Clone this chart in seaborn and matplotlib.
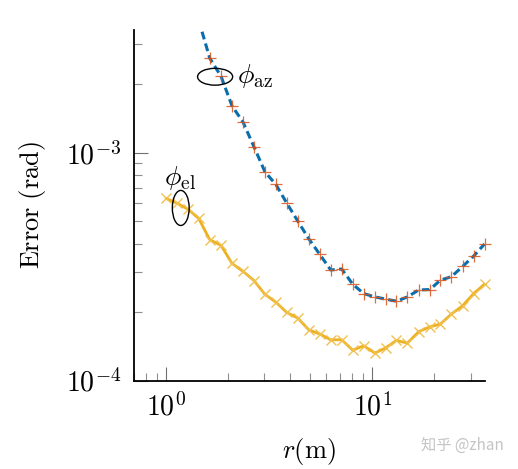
import numpy as np
import pandas as pd
import matplotlib
matplotlib.use("Agg")
import matplotlib.pyplot as plt
import seaborn as sns
from matplotlib.patches import Ellipse
from matplotlib.ticker import LogLocator, NullFormatter, FuncFormatter

# ---- data ----
r = [1.00, 1.13, 1.28, 1.44, 1.63, 1.85, 2.09, 2.36, 2.67, 3.02,
     3.41, 3.85, 4.36, 4.92, 5.57, 6.29, 7.11, 8.04, 9.09, 10.3,
     11.6, 13.1, 14.8, 16.8, 19.0, 21.4, 24.2, 27.4, 31.0, 35.0]

err_el = [6.31e-4, 6.02e-4, 5.65e-4, 5.16e-4, 4.16e-4, 3.92e-4, 3.27e-4, 3.02e-4, 2.75e-4, 2.39e-4,
          2.21e-4, 1.99e-4, 1.88e-4, 1.67e-4, 1.60e-4, 1.51e-4, 1.51e-4, 1.36e-4, 1.42e-4, 1.32e-4,
          1.39e-4, 1.50e-4, 1.46e-4, 1.64e-4, 1.72e-4, 1.77e-4, 1.96e-4, 2.13e-4, 2.41e-4, 2.65e-4]

# azimuth: starts at r[3] (first point lies above the plot top)
err_az = [3.84e-3, 2.61e-3, 2.17e-3, 1.61e-3, 1.37e-3, 1.065e-3, 8.25e-4, 7.27e-4, 6.02e-4, 5.01e-4,
          4.20e-4, 3.58e-4, 3.06e-4, 3.09e-4, 2.65e-4, 2.41e-4, 2.33e-4, 2.28e-4, 2.23e-4, 2.33e-4,
          2.50e-4, 2.51e-4, 2.76e-4, 2.86e-4, 3.17e-4, 3.52e-4, 3.98e-4]
r_az = r[3:]

sns.set_style("ticks")
plt.rcParams["mathtext.fontset"] = "cm"
plt.rcParams["font.family"] = ["DejaVu Serif"]
plt.rcParams["text.color"] = "black"
plt.rcParams["axes.labelcolor"] = "black"
plt.rcParams["xtick.labelcolor"] = "black"
plt.rcParams["ytick.labelcolor"] = "black"

fig = plt.figure(figsize=(5.18, 4.69), dpi=100)
ax = fig.add_axes([134 / 518, 1 - 380.5 / 469, 350.5 / 518, 350.5 / 469])

df_el = pd.DataFrame({"r": r, "err": err_el})
df_az = pd.DataFrame({"r": r_az, "err": err_az})
df_azp = df_az.iloc[1:]

C_YEL = "#EDB120"
C_BLU = "#0A6EAD"
C_ORA = "#D95319"

sns.lineplot(data=df_el, x="r", y="err", ax=ax, estimator=None, color=C_YEL,
             linewidth=2.0, marker="x", markersize=7, markeredgewidth=1.0,
             markeredgecolor="#F0C050", clip_on=False, zorder=3)
sns.lineplot(data=df_az, x="r", y="err", ax=ax, estimator=None, color=C_BLU,
             linewidth=2.2, zorder=3)
ax.lines[-1].set_dashes((2.6, 1.4))
sns.lineplot(data=df_azp, x="r", y="err", ax=ax, estimator=None, color=C_ORA,
             linestyle="", marker="+", markersize=8.5, markeredgewidth=0.9,
             markeredgecolor=C_ORA, clip_on=False, zorder=4, alpha=0.85)

ax.set_xscale("log")
ax.set_yscale("log")
ax.set_xlim(0.7, 35.0)
ax.set_ylim(1e-4, 3.47e-3)

for s in ["top", "right"]:
    ax.spines[s].set_visible(False)
for s in ["left", "bottom"]:
    ax.spines[s].set_linewidth(1.3)
    ax.spines[s].set_color("black")

pow_fmt = FuncFormatter(lambda v, p: r"$10^{%d}$" % int(round(np.log10(v))))
ax.xaxis.set_major_locator(LogLocator(base=10))
ax.yaxis.set_major_locator(LogLocator(base=10))
ax.xaxis.set_minor_locator(LogLocator(base=10, subs=np.arange(2, 10)))
ax.yaxis.set_minor_locator(LogLocator(base=10, subs=np.arange(2, 10)))
ax.xaxis.set_major_formatter(pow_fmt)
ax.yaxis.set_major_formatter(pow_fmt)
ax.xaxis.set_minor_formatter(NullFormatter())
ax.yaxis.set_minor_formatter(NullFormatter())

ax.tick_params(which="major", direction="in", length=10, width=0.8, color="#707070",
               labelsize=20, pad=9, labelcolor="black")
ax.tick_params(which="minor", direction="in", length=6, width=0.8, color="#909090")

ax.set_xlabel(r"$r(\mathrm{m})$", fontsize=19, labelpad=10, color="black")
ax.set_ylabel(r"$\mathrm{Error\ (rad)}$", fontsize=19, labelpad=13, color="black")

# annotations
ax.add_patch(Ellipse((0.2314, 0.8666), 0.10, 0.048, transform=ax.transAxes,
                     fill=False, edgecolor="black", linewidth=1.0, zorder=5))
ax.add_patch(Ellipse((0.1334, 0.4923), 0.048, 0.10, transform=ax.transAxes,
                     fill=False, edgecolor="black", linewidth=1.0, zorder=5))
ax.text(0.295, 0.868, r"$\phi_{\mathrm{az}}$", transform=ax.transAxes,
        fontsize=20, ha="left", va="center", color="black")
ax.text(0.086, 0.578, r"$\phi_{\mathrm{el}}$", transform=ax.transAxes,
        fontsize=20, ha="left", va="center", color="black")

fig.text(421 / 518, 1 - 445 / 469, "知乎 @zhan", fontsize=11, color="#c4c4c4",
         family=["Noto Sans CJK SC", "DejaVu Sans"], ha="left", va="center")

fig.savefig("out.png", dpi=100)
